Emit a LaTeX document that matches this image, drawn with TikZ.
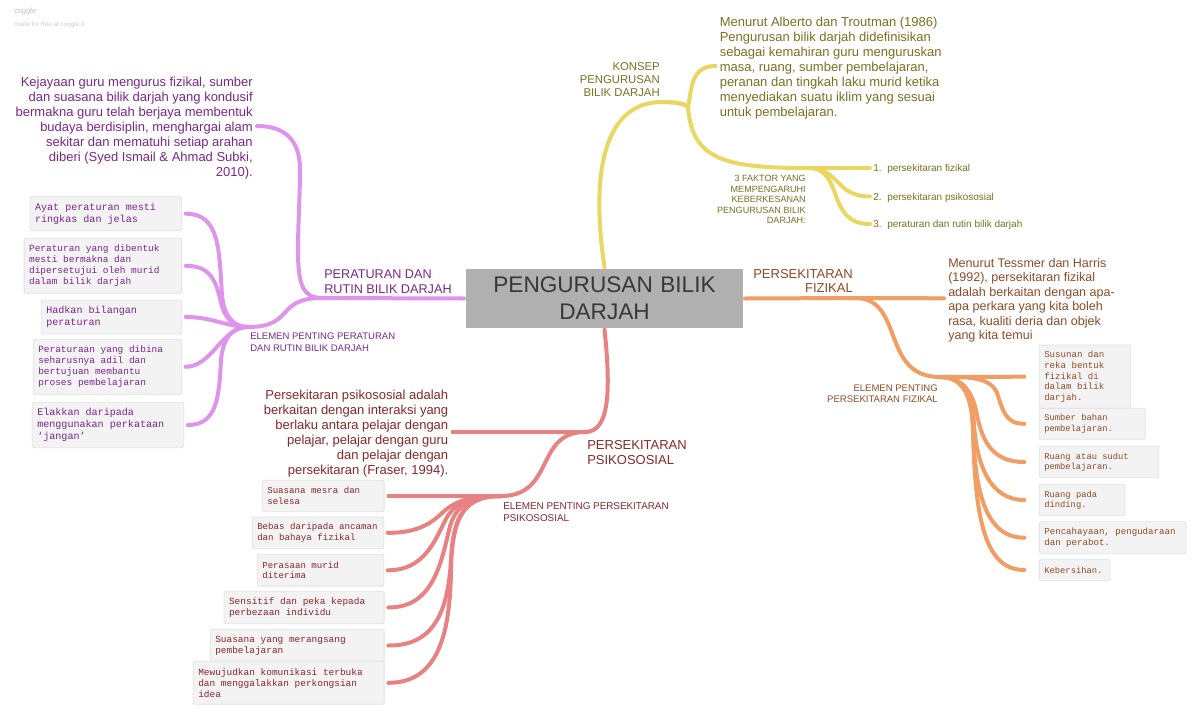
\documentclass[tikz,border=0pt]{standalone}
\usepackage{fontspec}
\setmainfont{Liberation Sans}
\setmonofont{Liberation Mono}
\usetikzlibrary{positioning}

\definecolor{linkpurple}{RGB}{222,148,234}
\definecolor{linkyellow}{RGB}{233,215,98}
\definecolor{linkorange}{RGB}{241,158,100}
\definecolor{linkred}{RGB}{232,130,130}
\definecolor{textpurple}{RGB}{122,38,138}
\definecolor{textyellow}{RGB}{122,112,32}
\definecolor{textorange}{RGB}{140,75,38}
\definecolor{textred}{RGB}{136,38,42}
\definecolor{boxfill}{RGB}{243,243,243}
\definecolor{boxline}{RGB}{226,226,226}

\tikzset{
	link/.style={line width=3pt, line cap=round},
	big/.style={align=#1, inner ysep=0pt, inner xsep=3pt, yshift=-1.4pt, font=\fontsize{9.75}{11.25}\selectfont},
	mid/.style={align=#1, inner sep=1.5pt, font=\fontsize{9.75}{11.1}\selectfont},
	small/.style={align=#1, inner sep=1.5pt, font=\fontsize{7.15}{8.4}\selectfont},
	listitem/.style={text=textyellow, anchor=west, inner xsep=2.25pt, inner ysep=0pt, text depth=0pt, font=\fontsize{7.5}{9}\selectfont},
	tbox/.style={draw=boxline, fill=boxfill, rounded corners=1.5pt, line width=0.6pt, align=flush left,
		inner xsep=3.75pt, inner ysep=0pt, outer sep=3pt},
	fonta/.style={font=\ttfamily\fontsize{7.56}{8.8}\selectfont},
	fontb/.style={font=\ttfamily\fontsize{7.09}{8.25}\selectfont},
	fontc/.style={font=\ttfamily\fontsize{6.83}{8}\selectfont},
	fontd/.style={font=\ttfamily\fontsize{6.6}{7.8}\selectfont},
}

\begin{document}
\begin{tikzpicture}[x=0.75pt, y=-0.75pt]
	\useasboundingbox (0,0) rectangle (1200,728);

	% centre
	\node[fill=black!31, text=black!78, text width=207.75pt, minimum height=43.8pt, inner xsep=0pt, inner ysep=0pt,
		outer sep=1.5pt, align=center, font=\fontsize{16.95}{20.25}\selectfont] (main) at (604.5,298.5) {PENGURUSAN BILIK\\DARJAH};

	% coggle mark
	\node[text=black!25, inner sep=0pt, anchor=west, font=\itshape\fontsize{5.6}{7}\selectfont] (coggle) at (14,12) {coggle};
	\node[text=black!20, inner sep=0pt, anchor=west, font=\fontsize{4.75}{5}\selectfont] (free) at (14,24.5) {made for free at coggle.it};

	% konsep
	\coordinate (konsepjoin) at (662,102);
	\coordinate (konsepend) at (715.5,66);
	\coordinate (faktorjoin) at (808,168);
	\node[mid=right, text=textyellow, above left=2.6pt and 0pt of konsepjoin, font=\fontsize{8.5}{9.75}\selectfont] (konsep) {KONSEP\\PENGURUSAN\\BILIK DARJAH};
	\node[big=left, text=textyellow, right=0pt of konsepend] (konsepdef) {Menurut Alberto dan Troutman (1986)\\Pengurusan bilik darjah didefinisikan\\sebagai kemahiran guru menguruskan\\masa, ruang, sumber pembelajaran,\\peranan dan tingkah laku murid ketika\\menyediakan suatu iklim yang sesuai\\untuk pembelajaran.};
	\node[small=right, text=textyellow, below left=3.8pt and 0pt of faktorjoin, font=\fontsize{6.8}{7.88}\selectfont] (faktor) {3 FAKTOR YANG\\MEMPENGARUHI\\KEBERKESANAN\\PENGURUSAN BILIK\\DARJAH:};
	\node[listitem] (itema) at (870,168) {\makebox[10.5pt][l]{1.}persekitaran fizikal};
	\node[listitem] (itemb) at (870,196.5) {\makebox[10.5pt][l]{2.}persekitaran psikososial};
	\node[listitem] (itemc) at (870,224) {\makebox[10.5pt][l]{3.}peraturan dan rutin bilik darjah};

	\draw[link, linkyellow] (main.north) .. controls (590,170) and (605,102) .. (konsepjoin);
	\draw[link, linkyellow] (konsepjoin) .. controls (676,102) and (686,104) .. (688,107) .. controls (692,90) and (690,66) .. (konsepend);
	\draw[link, linkyellow] (konsepjoin) .. controls (676,102) and (686,104) .. (688,107) .. controls (692,160) and (725,168) .. (faktorjoin);
	\draw[link, linkyellow] (faktorjoin) -- (itema.west);
	\draw[link, linkyellow] (faktorjoin) .. controls (840,168) and (835,196.5) .. (itemb.west);
	\draw[link, linkyellow] (faktorjoin) .. controls (845,168) and (825,224) .. (itemc.west);

	% persekitaran fizikal
	\coordinate (fizikaljoin) at (855,298);
	\coordinate (fizikalend) at (944,298.3);
	\coordinate (elemenfjoin) at (940,377);
	\node[mid=right, text=textorange, above left=2.2pt and 0pt of fizikaljoin] (fizikal) {PERSEKITARAN\\FIZIKAL};
	\node[big=left, text=textorange, right=0pt of fizikalend, font=\fontsize{9.4}{10.8}\selectfont] (fizikaldef) {Menurut Tessmer dan Harris\\(1992), persekitaran fizikal\\adalah berkaitan dengan apa-\\apa perkara yang kita boleh\\rasa, kualiti deria dan objek\\yang kita temui};
	\node[small=right, text=textorange, below left=4pt and 0pt of elemenfjoin] (elemenf) {ELEMEN PENTING\\PERSEKITARAN FIZIKAL};
	\node[tbox, fontc, text=textorange, outer xsep=11.25pt, text width=61.1pt, minimum height=47.5pt] (fa) at (1085,376.7) {Susunan dan\\reka bentuk\\fizikal di\\dalam bilik\\darjah.};
	\node[tbox, fontd, text=textorange, outer xsep=11.25pt, text width=72pt, minimum height=23.25pt] (fb) at (1092.3,423.8) {Sumber bahan\\pembelajaran.};
	\node[tbox, fontd, text=textorange, outer xsep=11.25pt, text width=82.1pt, minimum height=23.5pt] (fc) at (1099,462) {Ruang atau sudut\\pembelajaran.};
	\node[tbox, fontd, text=textorange, outer xsep=11.25pt, text width=56.8pt, minimum height=23.5pt] (fd) at (1082.2,500) {Ruang pada\\dinding.};
	\node[tbox, fontc, text=textorange, outer xsep=11.25pt, text width=102.5pt, minimum height=24pt] (fe) at (1112.7,537.7) {Pencahayaan, pengudaraan\\dan perabot.};
	\node[tbox, fontd, text=textorange, outer xsep=11.25pt, text width=45.5pt, minimum height=16pt] (ff) at (1074.7,570) {Kebersihan.};

	\draw[link, linkorange] (main.east) -- (fizikaljoin);
	\draw[link, linkorange] (fizikaljoin) -- (fizikalend);
	\draw[link, linkorange] (fizikaljoin) .. controls (905,298) and (880,377) .. (elemenfjoin);
	\draw[link, linkorange] (elemenfjoin) -- (fa.west);
	\draw[link, linkorange] (elemenfjoin) .. controls (965,377) and (990,376) .. (997,393) .. controls (1003,410) and (1005,424) .. (fb.west);
	\draw[link, linkorange] (elemenfjoin) .. controls (960,377) and (972,388) .. (977,415) .. controls (983,445) and (995,462) .. (fc.west);
	\draw[link, linkorange] (elemenfjoin) .. controls (960,377) and (972,390) .. (974,425) .. controls (977,465) and (990,500) .. (fd.west);
	\draw[link, linkorange] (elemenfjoin) .. controls (960,377) and (972,390) .. (973,430) .. controls (975,490) and (985,538) .. (fe.west);
	\draw[link, linkorange] (elemenfjoin) .. controls (960,377) and (972,390) .. (973,430) .. controls (975,520) and (985,570) .. (ff.west);

	% persekitaran psikososial
	\coordinate (psikojoin) at (585,432);
	\coordinate (psikoend) at (452.5,432);
	\coordinate (elemenpjoin) at (501,496);
	\node[mid=left, text=textred, below right=4.5pt and 0pt of psikojoin] (psiko) {PERSEKITARAN\\PSIKOSOSIAL};
	\node[big=right, text=textred, left=0pt of psikoend] (psikodef) {Persekitaran psikososial adalah\\berkaitan dengan interaksi yang\\berlaku antara pelajar dengan\\pelajar, pelajar dengan guru\\dan pelajar dengan\\persekitaran (Fraser, 1994).};
	\node[small=left, text=textred, below right=3.6pt and 0pt of elemenpjoin, font=\fontsize{7.4}{8.5}\selectfont] (elemenp) {ELEMEN PENTING PERSEKITARAN\\PSIKOSOSIAL};
	\node[tbox, fontc, text=textred, text width=84pt, minimum height=23.5pt] (pa) at (323.3,496) {Suasana mesra dan\\selesa};
	\node[tbox, fontc, text=textred, text width=91.1pt, minimum height=23.8pt] (pb) at (318,532.8) {Bebas daripada ancaman\\dan bahaya fizikal};
	\node[tbox, fontc, text=textred, text width=87.3pt, minimum height=24pt] (pc) at (320.5,570.3) {Perasaan murid\\diterima};
	\node[tbox, fontb, text=textred, text width=112.7pt, minimum height=24.3pt] (pd) at (304.2,607.5) {Sensitif dan peka kepada\\perbezaan individu};
	\node[tbox, fontb, text=textred, text width=123pt, minimum height=24.3pt] (pe) at (297.3,645.5) {Suasana yang merangsang\\pembelajaran};
	\node[tbox, fontb, text=textred, text width=135.8pt, minimum height=32.3pt] (pf) at (288.8,682.8) {Mewujudkan komunikasi terbuka\\dan menggalakkan perkongsian\\idea};

	\draw[link, linkred] (main.south) .. controls (612,400) and (607,432) .. (psikojoin);
	\draw[link, linkred] (psikojoin) -- (psikoend);
	\draw[link, linkred] (psikojoin) .. controls (535,432) and (555,496) .. (elemenpjoin);
	\draw[link, linkred] (elemenpjoin) -- (pa.east);
	\draw[link, linkred] (elemenpjoin) .. controls (480,496) and (460,497) .. (443,512) .. controls (430,525) and (415,533) .. (pb.east);
	\draw[link, linkred] (elemenpjoin) .. controls (475,496) and (458,500) .. (447,517) .. controls (435,540) and (425,570.3) .. (pc.east);
	\draw[link, linkred] (elemenpjoin) .. controls (470,496) and (455,505) .. (449,530) .. controls (440,570) and (430,607.5) .. (pd.east);
	\draw[link, linkred] (elemenpjoin) .. controls (465,496) and (453,515) .. (451,560) .. controls (448,610) and (435,646) .. (pe.east);
	\draw[link, linkred] (elemenpjoin) .. controls (465,496) and (452,515) .. (451,570) .. controls (450,630) and (440,683) .. (pf.east);

	% peraturan dan rutin
	\coordinate (rutinjoin) at (322,298);
	\coordinate (rutinend) at (257,126);
	\coordinate (elemenrjoin) at (248,327);
	\node[mid=left, text=textpurple, above right=1.6pt and 0pt of rutinjoin, font=\fontsize{9.5}{11.1}\selectfont] (rutin) {PERATURAN DAN\\RUTIN BILIK DARJAH};
	\node[big=right, text=textpurple, left=0pt of rutinend] (rutindef) {Kejayaan guru mengurus fizikal, sumber\\dan suasana bilik darjah yang kondusif\\bermakna guru telah berjaya membentuk\\budaya berdisiplin, menghargai alam\\sekitar dan mematuhi setiap arahan\\diberi (Syed Ismail \& Ahmad Subki,\\2010).};
	\node[small=left, text=textpurple, below right=3pt and 0pt of elemenrjoin] (elemenr) {ELEMEN PENTING PERATURAN\\DAN RUTIN BILIK DARJAH};
	\node[tbox, fonta, text=textpurple, text width=106.3pt, minimum height=25.5pt] (ra) at (105.9,213.7) {Ayat peraturan mesti\\ringkas dan jelas};
	\node[tbox, fontb, text=textpurple, text width=110.8pt, minimum height=41.25pt] (rb) at (103,265.8) {Peraturan yang dibentuk\\mesti bermakna dan\\dipersetujui oleh murid\\dalam bilik darjah};
	\node[tbox, fonta, text=textpurple, text width=97.8pt, minimum height=25.5pt] (rc) at (111.5,317) {Hadkan bilangan\\peraturan};
	\node[tbox, fontb, text=textpurple, text width=103.8pt, minimum height=41.25pt] (rd) at (107.5,366.8) {Peraturaan yang dibina\\seharusnya adil dan\\bertujuan membantu\\proses pembelajaran};
	\node[tbox, fonta, text=textpurple, text width=106.1pt, minimum height=34pt] (re) at (108,425) {Elakkan daripada\\menggunakan perkataan\\‘jangan’};

	\draw[link, linkpurple] (main.west) -- (rutinjoin);
	\draw[link, linkpurple] (rutinjoin) .. controls (303,298) and (298,285) .. (298,250) .. controls (298,225) and (300,195) .. (300,170) .. controls (300,140) and (285,126) .. (rutinend);
	\draw[link, linkpurple] (rutinjoin) .. controls (275,298) and (295,327) .. (elemenrjoin);
	\draw[link, linkpurple] (elemenrjoin) .. controls (235,327) and (224,318) .. (222,295) .. controls (219,250) and (220,213.7) .. (ra.east);
	\draw[link, linkpurple] (elemenrjoin) .. controls (236,327) and (226,322) .. (221,303) .. controls (216,280) and (210,265.8) .. (rb.east);
	\draw[link, linkpurple] (elemenrjoin) .. controls (228,327) and (212,317) .. (rc.east);
	\draw[link, linkpurple] (elemenrjoin) .. controls (222,327) and (212,366.8) .. (rd.east);
	\draw[link, linkpurple] (elemenrjoin) .. controls (232,327) and (223,338) .. (221,360) .. controls (219,395) and (218,425) .. (re.east);
\end{tikzpicture}
\end{document}
